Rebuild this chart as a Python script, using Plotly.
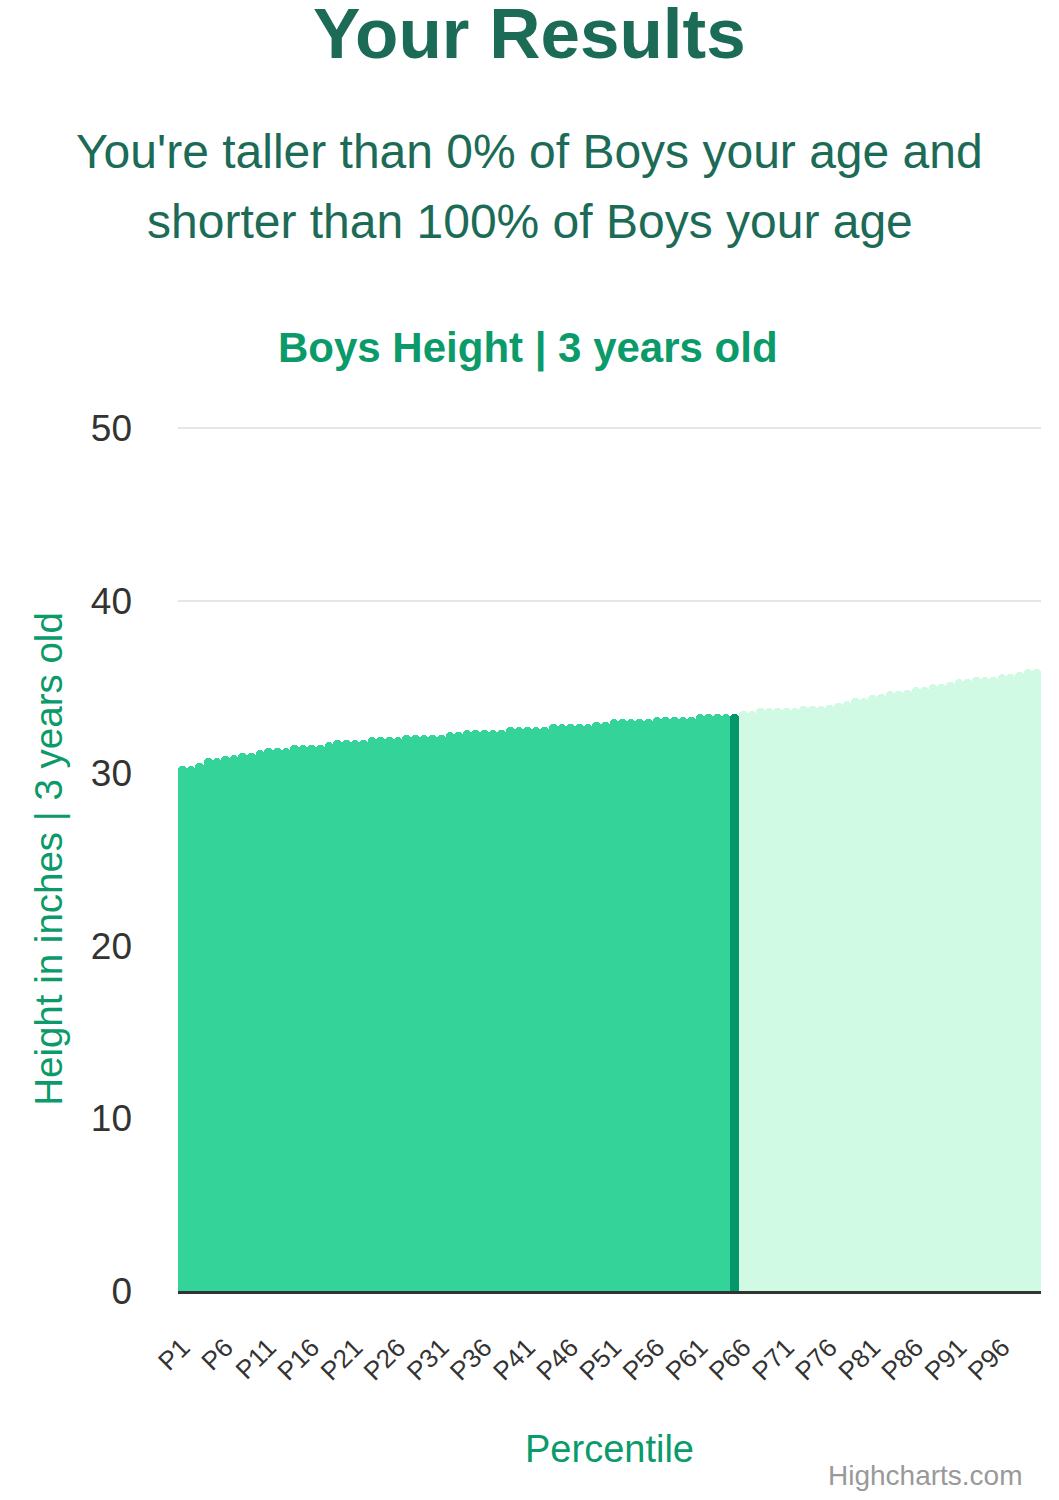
import plotly.graph_objects as go

categories = [f"P{i}" for i in range(1, 101)]
heights = [
    30.4, 30.4, 30.6, 30.87, 30.87, 31.0, 31.05, 31.2, 31.2, 31.34,
    31.48, 31.48, 31.48, 31.63, 31.63, 31.63, 31.63, 31.8, 31.95, 31.95,
    31.95, 31.95, 32.1, 32.1, 32.1, 32.12, 32.21, 32.21, 32.21, 32.21,
    32.21, 32.4, 32.4, 32.52, 32.52, 32.52, 32.52, 32.52, 32.66, 32.66,
    32.66, 32.66, 32.66, 32.83, 32.83, 32.83, 32.83, 32.83, 32.99, 32.99,
    33.14, 33.14, 33.14, 33.14, 33.14, 33.27, 33.27, 33.27, 33.27, 33.27,
    33.43, 33.43, 33.43, 33.43, 33.45, 33.6, 33.6, 33.76, 33.76, 33.76,
    33.76, 33.76, 33.92, 33.92, 33.92, 33.95, 34.05, 34.2, 34.34, 34.34,
    34.53, 34.6, 34.78, 34.78, 34.85, 34.98, 34.98, 35.15, 35.15, 35.3,
    35.44, 35.44, 35.6, 35.6, 35.6, 35.75, 35.75, 35.89, 36.05, 36.05,
]
user_index = 64  # P65
tick_labels = categories[::5]
y_ticks = [0, 10, 20, 30, 40, 50]

C_BELOW = "#34d399"
C_USER = "#059669"
C_ABOVE = "#d1fae5"
colors = [C_BELOW if i < user_index else (C_USER if i == user_index else C_ABOVE)
          for i in range(len(categories))]

FONT = "Liberation Sans, Arial, Helvetica, sans-serif"
DARK = "#1b6b57"
GREEN = "#0b9a6a"

fig = go.Figure()
fig.add_trace(go.Bar(
    x=categories, y=heights, width=1.0,
    marker=dict(color=colors, line=dict(width=0)),
    hoverinfo="x+y",
))

L, R, T, B = 178, 18, 427, 209
PW = 1059 - L - R
PH = 1500 - T - B

def py(Y):
    return (1500 - B - Y) / PH

def px(X):
    return (X - L) / PW

annotations = [
    dict(text="<b>Your Results</b>", x=px(529.5), y=py(34), font=dict(size=71, color=DARK)),
    dict(text="You're taller than 0% of Boys your age and", x=px(529.5), y=py(151),
         font=dict(size=48, color=DARK)),
    dict(text="shorter than 100% of Boys your age", x=px(529.5), y=py(221),
         font=dict(size=48, color=DARK)),
    dict(text="<b>Boys Height | 3 years old</b>", x=px(528), y=py(348),
         font=dict(size=42, color=GREEN)),
    dict(text="Highcharts.com", x=px(1025), y=py(1475), xanchor="right",
         font=dict(size=28, color="#999999")),
]
for a in annotations:
    a.update(xref="paper", yref="paper", showarrow=False)
    a.setdefault("xanchor", "center")
    a["yanchor"] = "middle"

fig.update_layout(
    width=1059, height=1500,
    margin=dict(l=L, r=R, t=T, b=B, pad=0),
    paper_bgcolor="white", plot_bgcolor="white",
    font=dict(family=FONT, color="#333333"),
    bargap=0, barcornerradius=4,
    showlegend=False,
    annotations=annotations,
)
fig.update_xaxes(
    type="category", range=[-0.5, 99.5],
    tickmode="array", tickvals=tick_labels, ticktext=tick_labels,
    tickangle=-45, tickfont=dict(size=26, color="#333333"),
    ticks="", ticklabelstandoff=28,
    showline=True, linecolor="#333333", linewidth=3,
    showgrid=False, zeroline=False,
    title=dict(text="Percentile", font=dict(size=38, color=GREEN), standoff=51),
    automargin=False,
)
fig.update_yaxes(
    range=[0, 50.06], tickmode="array", tickvals=y_ticks,
    tickfont=dict(size=37, color="#333333"),
    ticks="", ticklabelstandoff=45,
    showgrid=True, gridcolor="#e6e6e6", gridwidth=2,
    zeroline=False, showline=False,
    title=dict(text="Height in inches | 3 years old", font=dict(size=38.5, color=GREEN), standoff=16),
    automargin=False,
)

fig.write_html("out.html")
